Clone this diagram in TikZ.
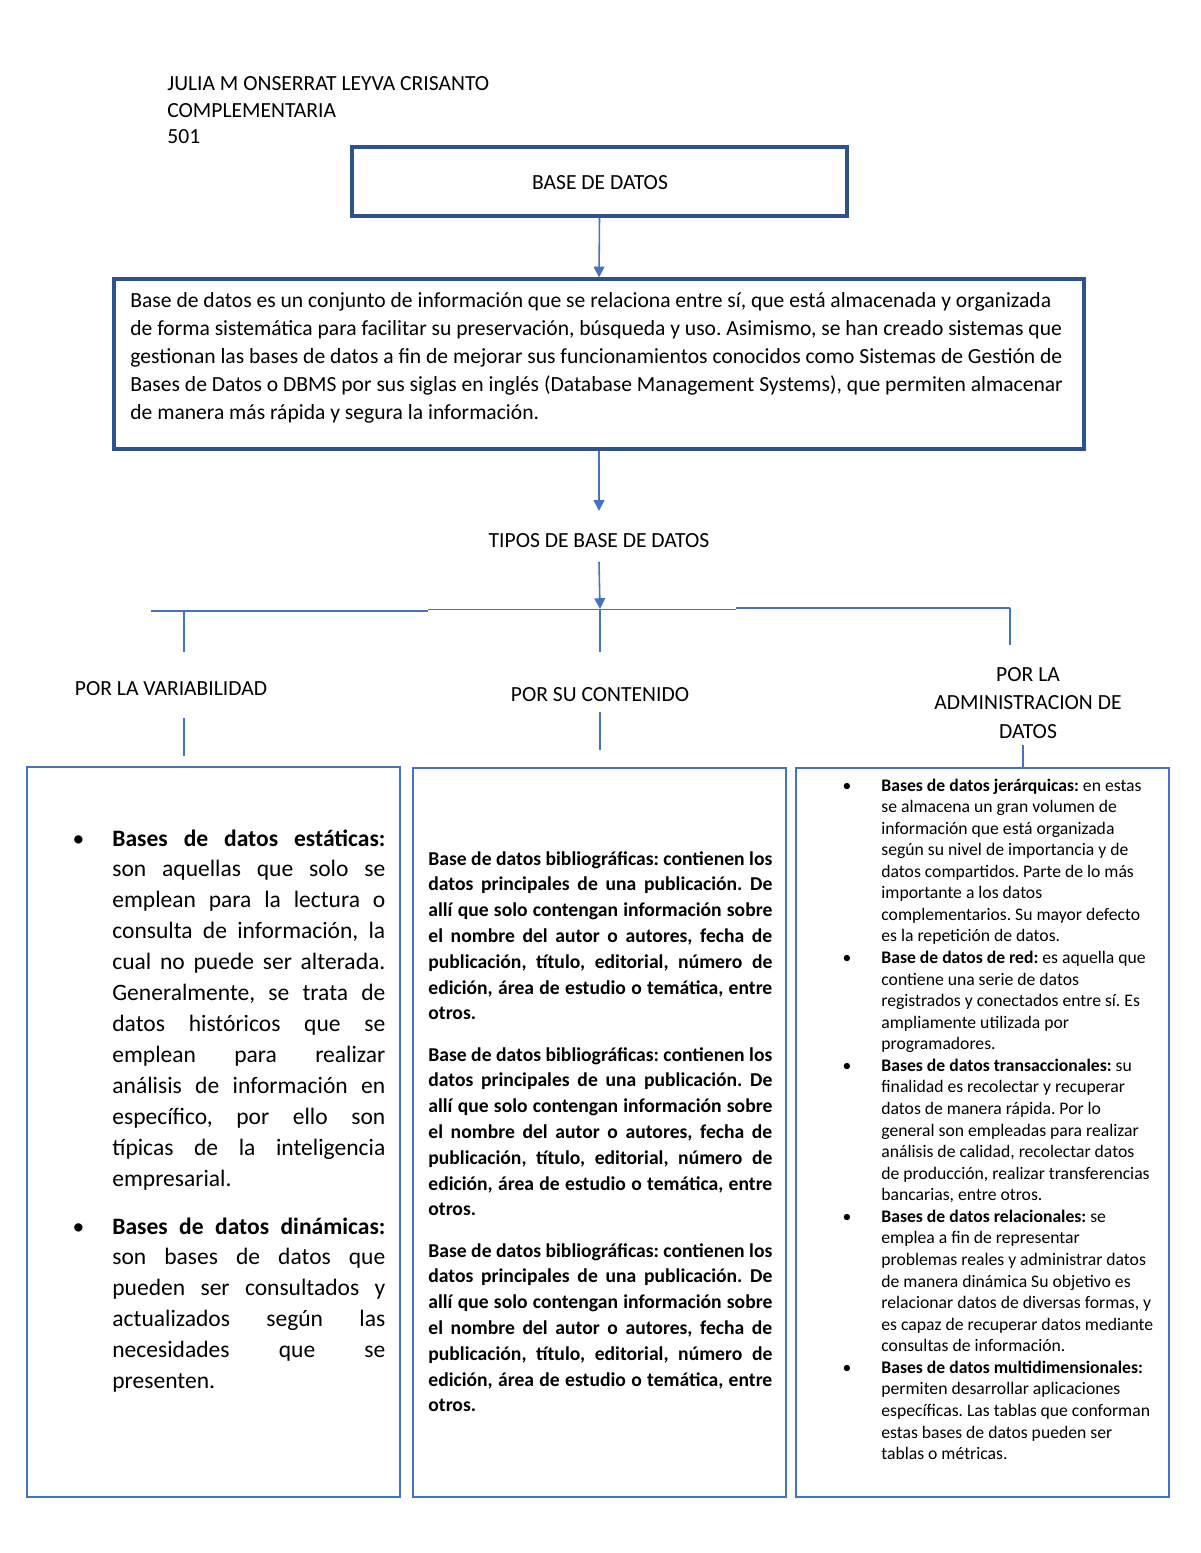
\documentclass[tikz,border=0pt]{standalone}
\usepackage{fontspec}
\setmainfont{Carlito}
\usetikzlibrary{arrows.meta,fit}
\definecolor{darkblue}{HTML}{2F528F}
\definecolor{accblue}{HTML}{4472C4}
\frenchspacing
\newcommand\J[1]{\makebox[\linewidth][s]{#1}\par}
\newcommand\N[1]{\leavevmode#1\par}
\newcommand\BL[2]{\leavevmode\llap{\textbullet\hspace{#1}}#2\par}
\newcommand\biblio{\parbox[t]{175.4pt}{\fontsize{10}{13.16}\selectfont\bfseries
\J{Base de datos bibliográficas: contienen los}
\J{datos principales de una publicación. De}
\J{allí que solo contengan información sobre}
\J{el nombre del autor o autores, fecha de}
\J{publicación, título, editorial, número de}
\J{edición, área de estudio o temática, entre}
\N{otros.}}}
\begin{document}
\begin{tikzpicture}[x=0.51pt,y=-0.51pt,
  topbox/.style={draw=darkblue, line width=1.6pt, inner sep=0pt},
  lowbox/.style={draw=accblue, line width=1.4pt, inner sep=0pt},
  conn/.style={draw=accblue, line width=0.8pt},
  arr/.style={conn, -{Triangle[width=5.5pt,length=5.5pt]}},
  txt/.style={inner sep=0pt, anchor=base west},
  lbl/.style={inner sep=0pt, anchor=base, font=\fontsize{11}{13.4}\selectfont},
]
\useasboundingbox (0,0) rectangle (1200,1553);
\fill[white] (0,0) rectangle (1200,1553);

% header
\node[txt] (hdr) at (167,91) {\parbox[t]{300pt}{\fontsize{11}{13.5}\selectfont
\N{JULIA M ONSERRAT LEYVA CRISANTO}
\N{COMPLEMENTARIA}
\N{501}}};

% box 1
\coordinate (b1nw) at (352,147); \coordinate (b1se) at (847,216);
\node[topbox, fit=(b1nw)(b1se)] (b1) {};
\node[lbl] (t1) at (600,190) {BASE DE DATOS};

% box 2
\coordinate (b2nw) at (114,279); \coordinate (b2se) at (1084,449);
\node[topbox, fit=(b2nw)(b2se)] (b2) {};
\node[txt] (t2) at (130,307) {\parbox[t]{500pt}{\fontsize{11}{14.28}\selectfont
\N{Base de datos es un conjunto de información que se relaciona entre sí, que está almacenada y organizada}
\N{de forma sistemática para facilitar su preservación, búsqueda y uso. Asimismo, se han creado sistemas que}
\N{gestionan las bases de datos a fin de mejorar sus funcionamientos conocidos como Sistemas de Gestión de}
\N{Bases de Datos o DBMS por sus siglas en inglés (Database Management Systems), que permiten almacenar}
\N{de manera más rápida y segura la información.}}};

\draw[arr] (b1.south) -- (b2.north);

% tipos
\coordinate (a2end) at (599,511);
\draw[arr] (b2.south) -- (a2end);
\node[lbl] (tipos) at (599,547) {TIPOS DE BASE DE DATOS};
\coordinate (tbot) at (599,562);
\coordinate (junc) at (600,609);
\draw[arr] (tbot) -- (junc);

% horizontal bar
\coordinate (hl1) at (151,611); \coordinate (hl2) at (428,611);
\coordinate (hm1) at (428,609.5); \coordinate (hm2) at (736,609.5);
\coordinate (hr1) at (736,608); \coordinate (hr2) at (1010,608);
\draw[conn] (hl1) -- (hl2);
\draw[conn] (hm1) -- (hm2);
\draw[conn] (hr1) -- (hr2);

% ticks
\coordinate (tl1) at (184,611); \coordinate (tl2) at (184,652);
\coordinate (tm1) at (600,609.5); \coordinate (tm2) at (600,652);
\coordinate (tr1) at (1010,608); \coordinate (tr2) at (1010,645);
\draw[conn] (tl1) -- (tl2);
\draw[conn] (tm1) -- (tm2);
\draw[conn] (tr1) -- (tr2);

% category labels
\node[lbl] (var) at (171,695) {POR LA VARIABILIDAD};
\node[lbl] (cont) at (600,701) {POR SU CONTENIDO};
\node[inner sep=0pt, anchor=base] (adm) at (1028,681) {\parbox[t]{150pt}{\centering\fontsize{11}{14.6}\selectfont
POR LA\par ADMINISTRACION DE\par DATOS\par}};

% lower boxes
\coordinate (bLnw) at (27,767); \coordinate (bLse) at (400,1497);
\node[lowbox, fit=(bLnw)(bLse)] (bL) {};
\coordinate (bMnw) at (413,768); \coordinate (bMse) at (786,1497);
\node[lowbox, fit=(bMnw)(bMse)] (bM) {};
\coordinate (bRnw) at (796,768); \coordinate (bRse) at (1169,1497);
\node[lowbox, fit=(bRnw)(bRse)] (bR) {};

\coordinate (vl1) at (184,718); \coordinate (vl2) at (184,756);
\coordinate (vm1) at (600,712); \coordinate (vm2) at (600,750);
\coordinate (vr1) at (1023,745);
\draw[conn] (vl1) -- (vl2);
\draw[conn] (vm1) -- (vm2);
\draw[conn] (vr1) -- (vr1 |- bR.north);

% left box text
\node[txt] (pL1) at (112,846) {\parbox[t]{139.2pt}{\fontsize{12}{15.8}\selectfont
\leavevmode\llap{\textbullet\hspace{14.3pt}}\J{\textbf{Bases de datos estáticas:}}
\J{son aquellas que solo se}
\J{emplean para la lectura o}
\J{consulta de información, la}
\J{cual no puede ser alterada.}
\J{Generalmente, se trata de}
\J{datos históricos que se}
\J{emplean para realizar}
\J{análisis de información en}
\J{específico, por ello son}
\J{típicas de la inteligencia}
\N{empresarial.}}};
\node[txt] (pL2) at (112,1234) {\parbox[t]{139.2pt}{\fontsize{12}{15.8}\selectfont
\leavevmode\llap{\textbullet\hspace{14.3pt}}\J{\textbf{Bases de datos dinámicas:}}
\J{son bases de datos que}
\J{pueden ser consultados y}
\J{actualizados según las}
\J{necesidades que se}
\N{presenten.}}};

% middle box text
\node[txt] (pM1) at (428,865) {\biblio};
\node[txt] (pM2) at (428,1061) {\biblio};
\node[txt] (pM3) at (428,1257) {\biblio};

% right box text
\node[txt] (pR) at (881,791) {\parbox[t]{150pt}{\fontsize{9}{11}\selectfont
\BL{15.3pt}{\textbf{Bases de datos jerárquicas:} en estas}
\N{se almacena un gran volumen de}
\N{información que está organizada}
\N{según su nivel de importancia y de}
\N{datos compartidos. Parte de lo más}
\N{importante a los datos}
\N{complementarios. Su mayor defecto}
\N{es la repetición de datos.}
\BL{15.3pt}{\textbf{Base de datos de red:} es aquella que}
\N{contiene una serie de datos}
\N{registrados y conectados entre sí. Es}
\N{ampliamente utilizada por}
\N{programadores.}
\BL{15.3pt}{\textbf{Bases de datos transaccionales:} su}
\N{finalidad es recolectar y recuperar}
\N{datos de manera rápida. Por lo}
\N{general son empleadas para realizar}
\N{análisis de calidad, recolectar datos}
\N{de producción, realizar transferencias}
\N{bancarias, entre otros.}
\BL{15.3pt}{\textbf{Bases de datos relacionales:} se}
\N{emplea a fin de representar}
\N{problemas reales y administrar datos}
\N{de manera dinámica Su objetivo es}
\N{relacionar datos de diversas formas, y}
\N{es capaz de recuperar datos mediante}
\N{consultas de información.}
\BL{15.3pt}{\textbf{Bases de datos multidimensionales:}}
\N{permiten desarrollar aplicaciones}
\N{específicas. Las tablas que conforman}
\N{estas bases de datos pueden ser}
\N{tablas o métricas.}}};
\end{tikzpicture}
\end{document}
